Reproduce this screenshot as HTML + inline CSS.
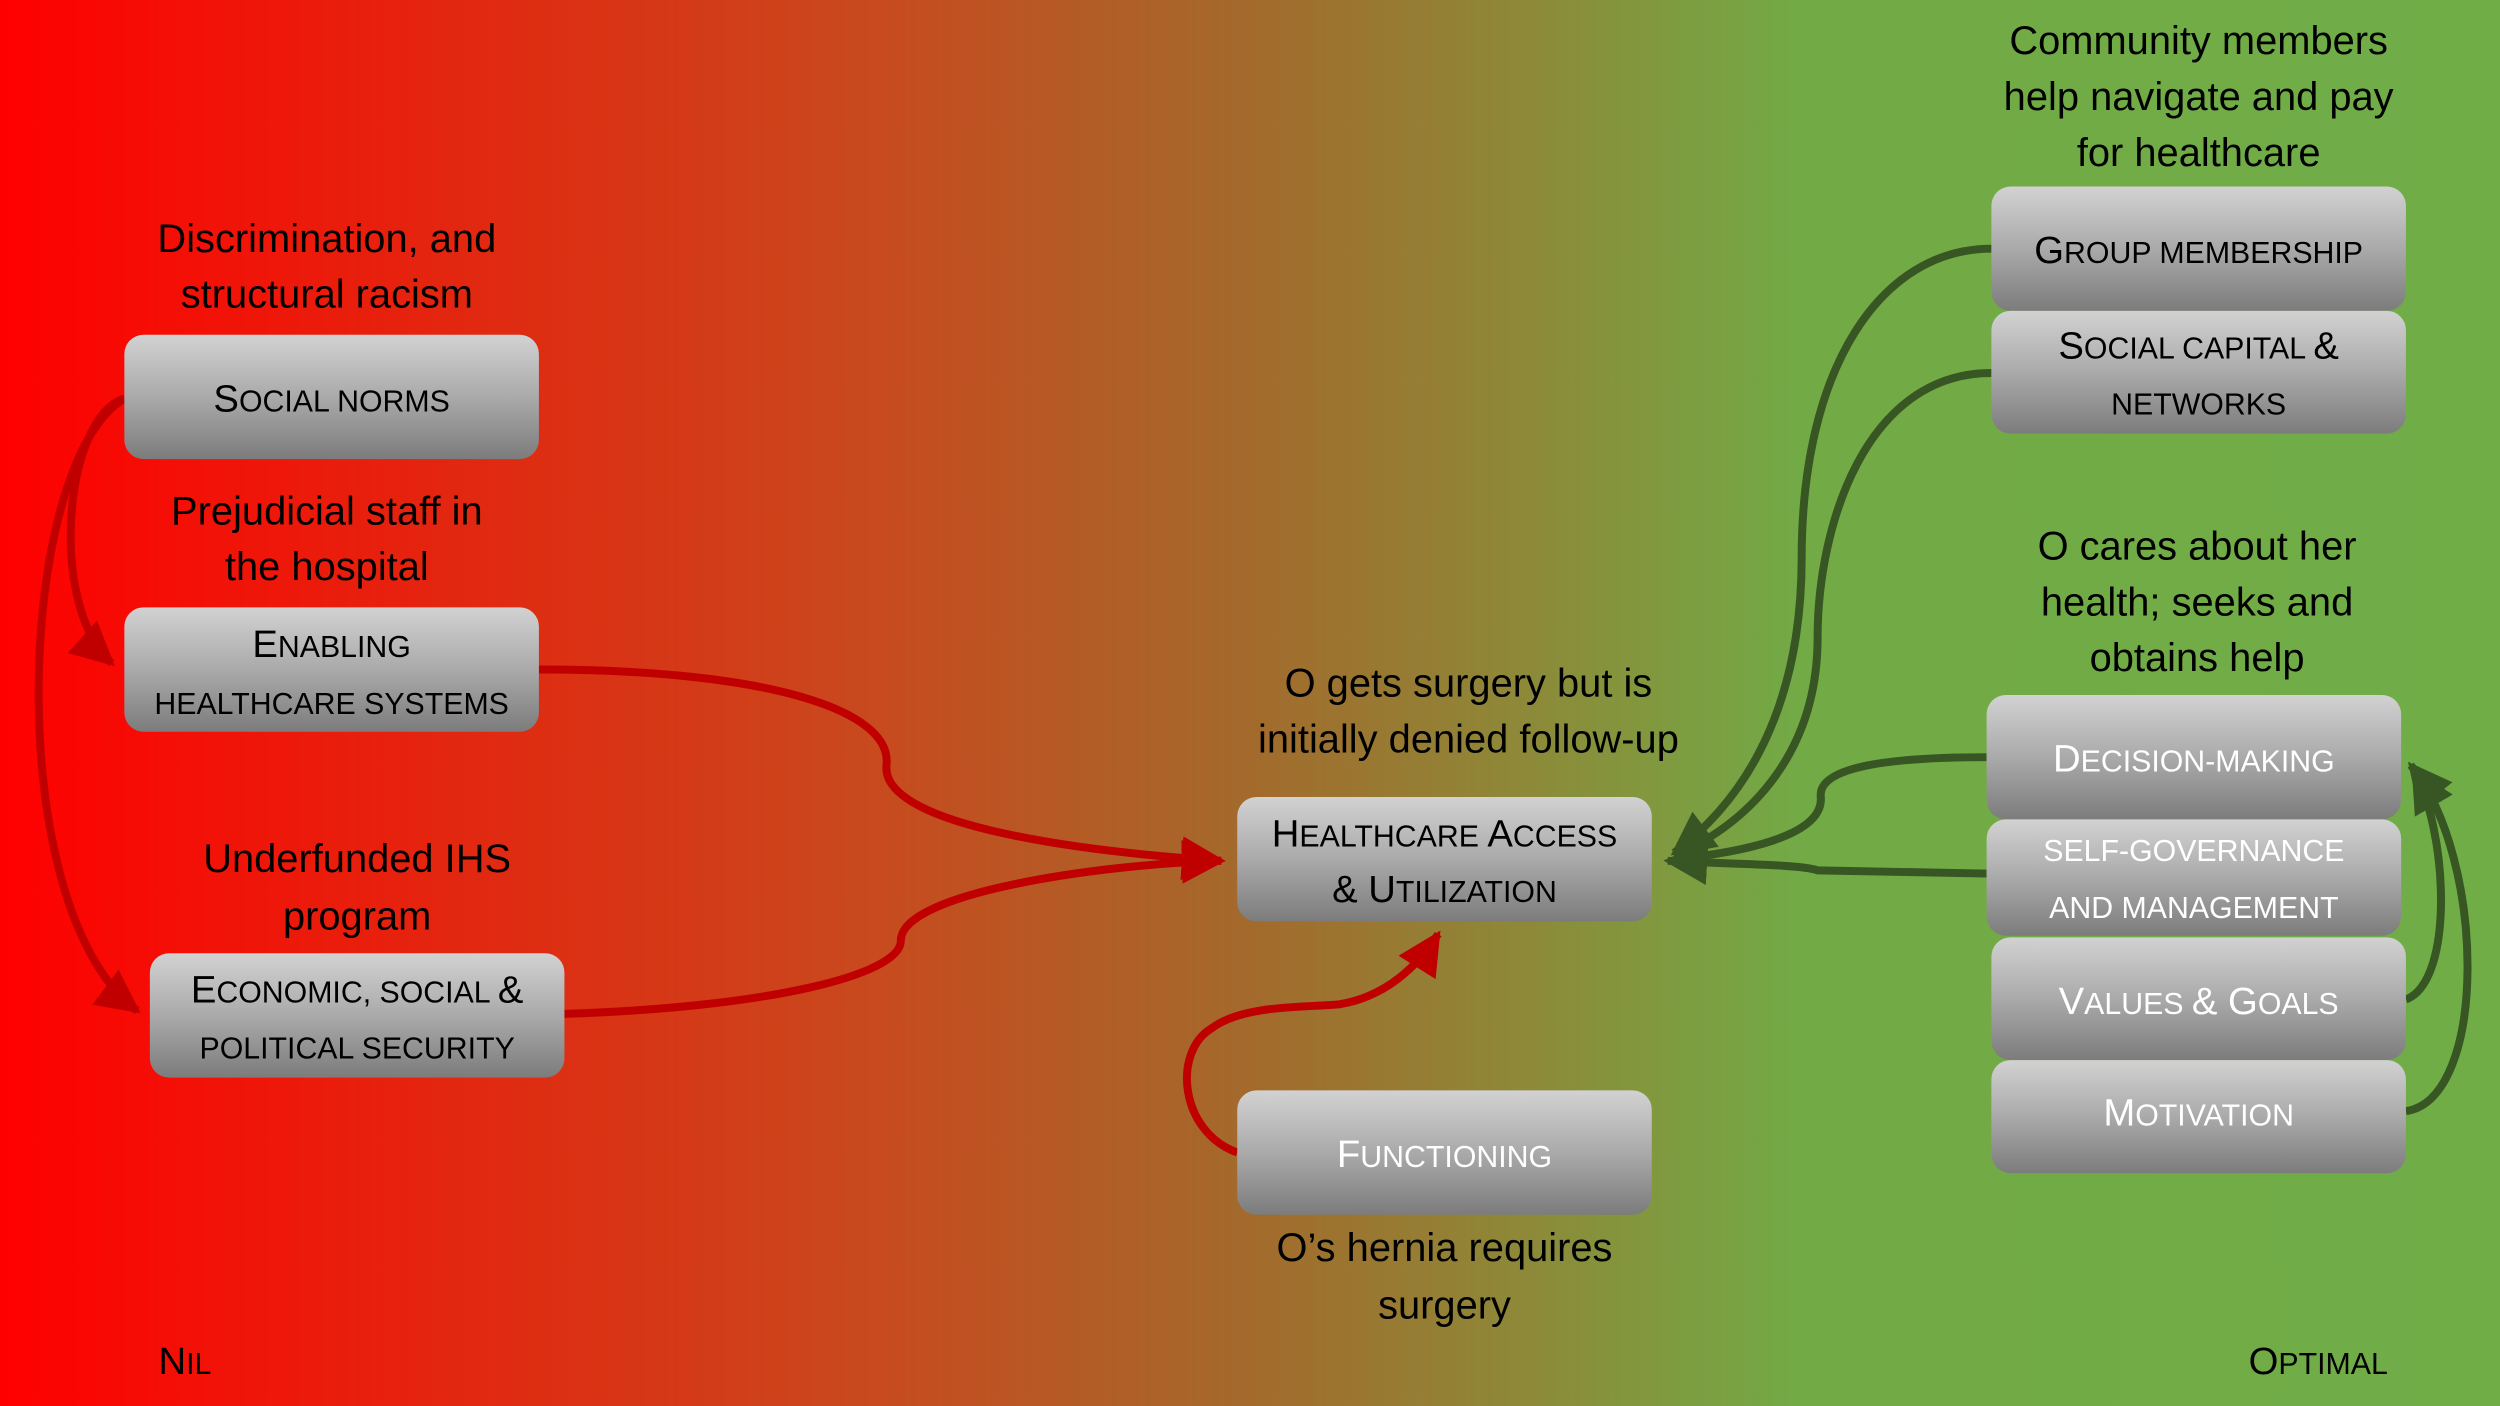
<!DOCTYPE html>
<html><head><meta charset="utf-8"><style>
html,body{margin:0;padding:0;width:2500px;height:1406px;overflow:hidden}
svg{display:block}
.l{font-family:"Liberation Sans",sans-serif;font-size:25px;fill:#000;text-anchor:middle}
.b{font-family:"Liberation Sans",sans-serif;font-size:19px;text-anchor:middle;fill:#000}
.b .c{font-size:24px}
.w{fill:#fff}
</style></head><body>
<svg width="2500" height="1406" viewBox="0 0 1568 882" preserveAspectRatio="none">
<defs>
<linearGradient id="bg" x1="0" x2="1" y1="0" y2="0">
<stop offset="0" stop-color="#ff0000"/>
<stop offset="0.35" stop-color="#c84a1e"/>
<stop offset="0.5" stop-color="#a36a2c"/>
<stop offset="0.62" stop-color="#8b8c3a"/>
<stop offset="0.72" stop-color="#72aa46"/>
<stop offset="1" stop-color="#70ad47"/>
</linearGradient>
<linearGradient id="box" x1="0" x2="0" y1="0" y2="1">
<stop offset="0" stop-color="#d2d2d2"/>
<stop offset="0.5" stop-color="#aaaaaa"/>
<stop offset="1" stop-color="#7c7c7c"/>
</linearGradient>
<marker id="ar" viewBox="0 0 10 10" refX="9" refY="5" markerWidth="5.5" markerHeight="5.5" orient="auto" markerUnits="strokeWidth"><path d="M0,0 L10,5 L0,10 z" fill="#c00000"/></marker>
<marker id="ag" viewBox="0 0 10 10" refX="9" refY="5" markerWidth="5.5" markerHeight="5.5" orient="auto" markerUnits="strokeWidth"><path d="M0,0 L10,5 L0,10 z" fill="#375623"/></marker>
</defs>
<rect width="1568" height="882" fill="url(#bg)"/>

<g fill="none" stroke="#c00000" stroke-width="5">
<path d="M78,250 C40,262 30,380 70,416" marker-end="url(#ar)"/>
<path d="M78,250 C10,290 0,570 86,634" marker-end="url(#ar)"/>
<path d="M338,420 C480,420 560,445 556,480 C552,520 690,535 766,540" marker-end="url(#ar)"/>
<path d="M354,636 C480,632 565,612 565,590 C565,560 690,542 766,540" marker-end="url(#ar)"/>
<path d="M776,723 C740,710 735,660 760,645 C780,630 820,632 840,630 C870,625 890,605 902,586" marker-end="url(#ar)"/>
</g>
<g fill="none" stroke="#375623" stroke-width="5">
<path d="M1249,156 C1180,156 1130,230 1130,350 C1130,420 1110,490 1050,535" marker-end="url(#ag)"/>
<path d="M1249,234 C1170,234 1140,330 1140,400 C1140,470 1100,515 1050,537"/>
<path d="M1246,475 C1180,475 1140,482 1142,500 C1144,525 1090,535 1050,539"/>
<path d="M1246,548 L1140,546 C1130,542 1080,542 1046,540" marker-end="url(#ag)"/>
<path d="M1509,627 C1540,615 1535,520 1514,484" marker-end="url(#ag)"/>
<path d="M1509,697 C1560,690 1560,540 1512,480" marker-end="url(#ag)"/>
</g>

<g fill="url(#box)">
<rect x="78" y="210" width="260" height="78" rx="12"/>
<rect x="78" y="381" width="260" height="78" rx="12"/>
<rect x="94" y="598" width="260" height="78" rx="12"/>
<rect x="776" y="500" width="260" height="78" rx="12"/>
<rect x="776" y="684" width="260" height="78" rx="12"/>
<rect x="1249" y="117" width="260" height="78" rx="12"/>
<rect x="1249" y="195" width="260" height="77" rx="12"/>
<rect x="1246" y="436" width="260" height="78" rx="12"/>
<rect x="1246" y="514" width="260" height="73" rx="12"/>
<rect x="1249" y="588" width="260" height="77" rx="12"/>
<rect x="1249" y="665" width="260" height="71" rx="12"/>
</g>

<text class="b" x="208" y="258"><tspan class="c">S</tspan>OCIAL NORMS</text>
<text class="b" x="208" y="412"><tspan class="c">E</tspan>NABLING</text>
<text class="b" x="208" y="448">HEALTHCARE SYSTEMS</text>
<text class="b" x="224" y="629"><tspan class="c">E</tspan>CONOMIC, SOCIAL <tspan class="c">&amp;</tspan></text>
<text class="b" x="224" y="664">POLITICAL SECURITY</text>
<text class="b" x="906" y="531"><tspan class="c">H</tspan>EALTHCARE <tspan class="c">A</tspan>CCESS</text>
<text class="b" x="906" y="566"><tspan class="c">&amp; U</tspan>TILIZATION</text>
<text class="b w" x="906" y="732"><tspan class="c">F</tspan>UNCTIONING</text>
<text class="b" x="1379" y="165"><tspan class="c">G</tspan>ROUP MEMBERSHIP</text>
<text class="b" x="1379" y="225"><tspan class="c">S</tspan>OCIAL CAPITAL <tspan class="c">&amp;</tspan></text>
<text class="b" x="1379" y="260">NETWORKS</text>
<text class="b w" x="1376" y="484"><tspan class="c">D</tspan>ECISION-MAKING</text>
<text class="b w" x="1376" y="540">SELF-GOVERNANCE</text>
<text class="b w" x="1376" y="576">AND MANAGEMENT</text>
<text class="b w" x="1379" y="636"><tspan class="c">V</tspan>ALUES <tspan class="c">&amp; G</tspan>OALS</text>
<text class="b w" x="1379" y="706"><tspan class="c">M</tspan>OTIVATION</text>

<text class="l" x="205" y="158">Discrimination, and</text>
<text class="l" x="205" y="193">structural racism</text>
<text class="l" x="205" y="329">Prejudicial staff in</text>
<text class="l" x="205" y="364">the hospital</text>
<text class="l" x="224" y="547">Underfunded IHS</text>
<text class="l" x="224" y="583">program</text>
<text class="l" x="921" y="437">O gets surgery but is</text>
<text class="l" x="921" y="472">initially denied follow-up</text>
<text class="l" x="906" y="791">O’s hernia requires</text>
<text class="l" x="906" y="827">surgery</text>
<text class="l" x="1379" y="34">Community members</text>
<text class="l" x="1379" y="69">help navigate and pay</text>
<text class="l" x="1379" y="104">for healthcare</text>
<text class="l" x="1378" y="351">O cares about her</text>
<text class="l" x="1378" y="386">health; seeks and</text>
<text class="l" x="1378" y="421">obtains help</text>
<text class="b" x="116" y="862"><tspan class="c">N</tspan>IL</text>
<text class="b" x="1454" y="862"><tspan class="c">O</tspan>PTIMAL</text>
</svg>
</body></html>
